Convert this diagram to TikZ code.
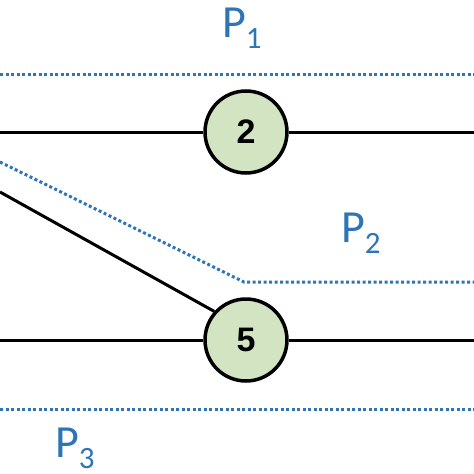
\documentclass[tikz,border=0pt]{standalone}
\usepackage{fontspec}
\setmainfont{Carlito}
\newfontfamily\numfont{Liberation Sans}
\definecolor{pblue}{RGB}{46,117,182}
\definecolor{nodegreen}{RGB}{210,228,193}
\begin{document}
\begin{tikzpicture}[x=1pt,y=-1pt,
  wire/.style={line width=3pt,black},
  part/.style={line width=3pt,pblue,dash pattern=on 3pt off 2.5pt},
  vnode/.style={circle,draw=black,line width=3.5pt,fill=nodegreen,minimum size=82pt,inner sep=0pt,font=\numfont\bfseries\fontsize{34}{34}\selectfont},
  plabel/.style={anchor=base west,inner sep=0pt,text=pblue,font=\fontsize{46}{46}\selectfont}]
\fill[white] (0,0) rectangle (474,474);
\useasboundingbox (0,0) rectangle (474,474);
% nodes
\node[vnode] (n2) at (246,132) {2};
\node[vnode] (n5) at (246,340) {5};
% coordinates
\coordinate (l2) at (0,132);
\coordinate (r2) at (474,132);
\coordinate (l5) at (0,340);
\coordinate (r5) at (474,340);
\coordinate (ld) at (0,192);
\coordinate (p1a) at (0,74.5);
\coordinate (p1b) at (474,74.5);
\coordinate (p2a) at (0,162);
\coordinate (p2c) at (244,282);
\coordinate (p2b) at (474,282);
\coordinate (p3a) at (0,409);
\coordinate (p3b) at (474,409);
% wires
\draw[wire] (l2) -- (n2);
\draw[wire] (n2) -- (r2);
\draw[wire] (l5) -- (n5);
\draw[wire] (n5) -- (r5);
\draw[wire] (ld) -- (n5.138);
% partitions
\draw[part] (p1a) -- (p1b);
\draw[part] (p2a) -- (p2c) -- (p2b);
\draw[part] (p3a) -- (p3b);
% labels
\node[plabel] (lp1) at (222,37) {P\raisebox{-11pt}{\fontsize{31}{31}\selectfont 1}};
\node[plabel] (lp2) at (341,242) {P\raisebox{-11pt}{\fontsize{31}{31}\selectfont 2}};
\node[plabel] (lp3) at (55,457) {P\raisebox{-11.5pt}{\fontsize{31}{31}\selectfont 3}};
\end{tikzpicture}
\end{document}
